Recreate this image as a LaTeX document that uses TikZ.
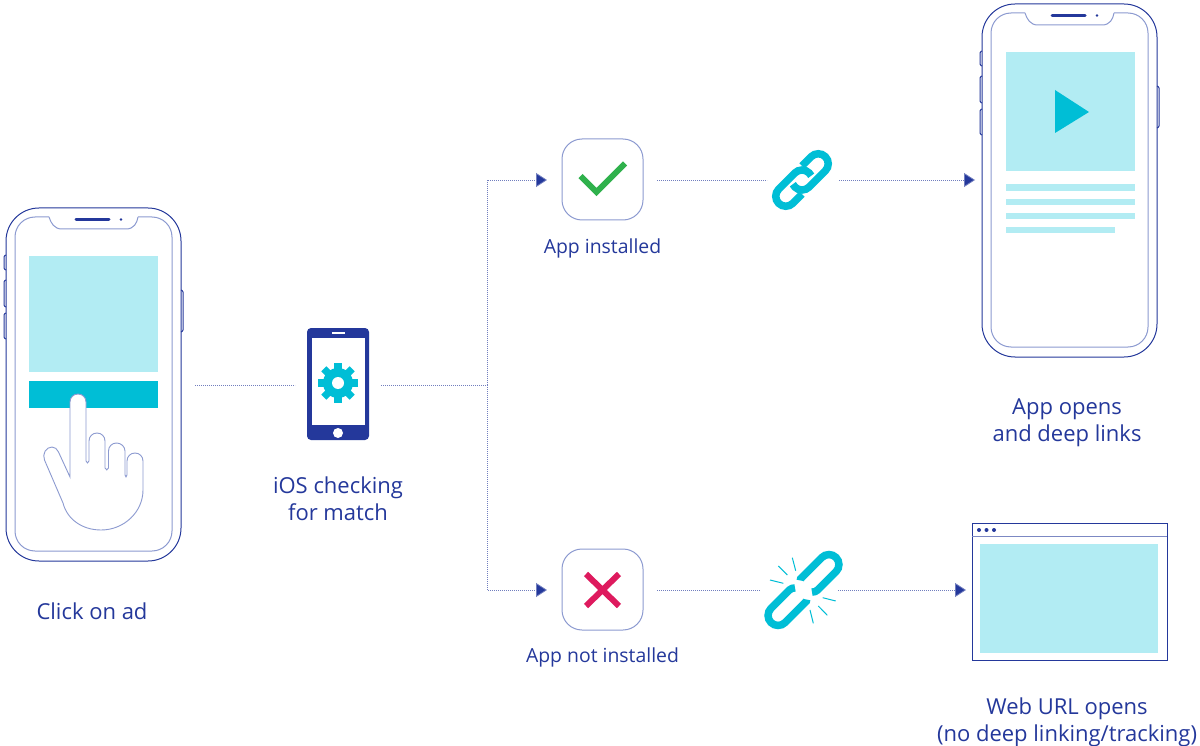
\documentclass[tikz,border=0pt]{standalone}
\usepackage{fontspec}
\setmainfont{Open Sans}
\usetikzlibrary{arrows.meta}
\definecolor{navy}{HTML}{24389B}
\definecolor{soft}{HTML}{8C9AD0}
\definecolor{pale}{HTML}{B2ECF3}
\definecolor{teal}{HTML}{00BED6}
\definecolor{okgreen}{HTML}{2FB14C}
\definecolor{nored}{HTML}{DE1A5E}
\tikzset{
  x=1pt,y=-1pt,
  shell/.style={draw=navy,line width=1pt},
  innerline/.style={draw=soft,line width=1pt},
  label/.style={text=navy,inner sep=0pt,align=center,font=\fontsize{22}{27}\selectfont},
  smalllabel/.style={label,font=\fontsize{19.4}{24}\selectfont},
  flow/.style={draw=navy!65,line width=0.8pt,dash pattern=on 0.9pt off 1.1pt},
  flowarrow/.style={flow,-{Triangle[length=11pt,width=14pt,fill=navy]}},
  statusbox/.style={draw=soft,line width=1pt,rounded corners=20pt,minimum width=81pt,minimum height=81pt,inner sep=0pt},
  chain/.style={draw=teal,line width=7.5pt},
  ray/.style={draw=teal,line width=1pt},
}
\newcommand{\phoneshell}{%
  \draw[shell,rounded corners=33pt] (6,208) rectangle (181,561);
  \draw[innerline,rounded corners=20pt] (49,217) -- (15,217) -- (15,551) -- (172,551) -- (172,217) -- (138,217);
  \draw[innerline] (138,217) .. controls (137,223) and (134,229) .. (126,229) -- (62,229) .. controls (54,229) and (51,223) .. (49,217);
  \draw[navy,line width=3pt,line cap=round] (76,219.5) -- (109,219.5);
  \fill[navy] (121,219.5) circle[radius=1.4pt];
  \draw[shell,rounded corners=1pt] (6,255) -- (4,256) -- (4,269) -- (6,270);
  \draw[shell,rounded corners=1pt] (6,280) -- (4,281) -- (4,306) -- (6,307);
  \draw[shell,rounded corners=1pt] (6,313) -- (4,314) -- (4,338) -- (6,339);
  \draw[shell,rounded corners=1pt] (181,290) -- (183,291) -- (183,331) -- (181,332);
}
% one half of a link, drawn in the frame that runs along the chain
\newcommand{\linkintact}{%
  \draw[chain] (10,-10) -- (23,-10) .. controls (28.5,-10) and (33,-5.5) .. (33,0)
     .. controls (33,5.5) and (28.5,10) .. (23,10) -- (0,10)
     .. controls (-5.5,10) and (-10,5.5) .. (-10,0) -- (-9.5,-3.5);
}
\newcommand{\linkbroken}{%
  \draw[chain] (4.5,-9) -- (6,-10) -- (36,-10) .. controls (41.5,-10) and (46,-5.5) .. (46,0)
     .. controls (46,5.5) and (41.5,10) .. (36,10) -- (10,10) .. controls (8,10) and (6,9) .. (4.5,7.5);
}
\begin{document}
\begin{tikzpicture}
\useasboundingbox (0,0) rectangle (1200,746);
\fill[white] (0,0) rectangle (1200,746);

% left phone
\phoneshell
\fill[pale] (29,256) rectangle (158,372);
\fill[teal] (29,381) rectangle (158,408);
\draw[innerline,fill=white,line width=0.9pt] (70,477) -- (70,402)
  .. controls (70,397.5) and (73.5,394) .. (78,394) .. controls (82.5,394) and (86,397.5) .. (86,402)
  -- (86,461) .. controls (86,463.5) and (89,463.5) .. (89,461)
  -- (89,441) .. controls (89,436.5) and (92.5,433) .. (97,433) .. controls (101.5,433) and (105,436.5) .. (105,441)
  -- (105,468) .. controls (105,470.5) and (108.5,470.5) .. (108.5,468)
  -- (108.5,451) .. controls (108.5,446.5) and (112,443) .. (116.5,443) .. controls (121,443) and (125,446.5) .. (125,451)
  -- (125,475) .. controls (125,477.5) and (127,477.5) .. (127,475)
  -- (127,461) .. controls (127,456.5) and (130.5,453) .. (135,453) .. controls (139.5,453) and (143,456.5) .. (143,461)
  -- (143,490) .. controls (143,512) and (124,530) .. (101,530) .. controls (82,530) and (67,519) .. (63,503)
  -- (44.5,460) .. controls (42,454) and (46,447) .. (52,447) .. controls (55,447) and (57,449) .. (58.5,452) -- cycle;
\node[label] (clicklabel) at (92,611) {Click on ad};

% checking phone
\fill[navy,rounded corners=4pt] (307,328) rectangle (369,440);
\fill[white] (312,338) rectangle (365,425);
\draw[white,line width=2pt] (332,332.5) -- (345,332.5);
\fill[white] (338,433) circle[radius=5pt];
\begin{scope}[shift={(338,383)}]
  \foreach \a in {0,45,...,315}{
    \begin{scope}[rotate=\a]
      \fill[teal] (-3.6,-20) rectangle (3.6,0);
    \end{scope}
  }
  \fill[teal] (0,0) circle[radius=15pt];
  \fill[white] (0,0) circle[radius=6pt];
\end{scope}
\node[label] (checklabel) at (338,498.5) {iOS checking\\for match};

% status boxes
\node[statusbox] (okbox) at (602.5,179.5) {};
\node[statusbox] (nobox) at (602.5,589.5) {};
\draw[okgreen,line width=6pt] (580.5,176) -- (596.5,192) -- (625,163.5);
\draw[nored,line width=6pt] (586,574) -- (619,606) (619,574) -- (586,606);
\node[smalllabel] (oklabel) at (602.5,248.5) {App installed};
\node[smalllabel] (nolabel) at (602.5,657.5) {App not installed};

% links
\begin{scope}[shift={(802,180)},rotate=45]
  \linkintact
  \begin{scope}[rotate=180]\linkintact\end{scope}
\end{scope}
\begin{scope}[shift={(803.5,590)},rotate=45]
  \linkbroken
  \begin{scope}[rotate=180]\linkbroken\end{scope}
\end{scope}
\draw[ray] (778.3,566) -- (787.3,575);
\draw[ray] (770,580) -- (783.3,583.3);
\draw[ray] (792.3,557.7) -- (795.7,570.7);
\draw[ray] (818.3,606) -- (827.3,615.3);
\draw[ray] (822.7,597.7) -- (835.7,601);
\draw[ray] (810,610) -- (813.3,623.3);

% right phone
\begin{scope}[shift={(976,-204)}]
  \phoneshell
\end{scope}
\fill[pale] (1006,52) rectangle (1135,171);
\fill[teal] (1055,90) -- (1089,112) -- (1055,133) -- cycle;
\fill[pale] (1006,184) rectangle (1135,191);
\fill[pale] (1006,199) rectangle (1135,205);
\fill[pale] (1006,213) rectangle (1135,219);
\fill[pale] (1006,227) rectangle (1115,233);
\node[label] (openlabel) at (1067,422.5) {App opens\\and deep links};

% browser
\draw[shell] (972,523) rectangle (1167,660);
\draw[innerline,draw=navy!60] (972,536.5) -- (1167,536.5);
\foreach \dx in {979,986.5,994}{\fill[navy] (\dx,530) circle[radius=2pt];}
\fill[pale] (980,544) rectangle (1158,653);
\node[label] (weblabel) at (1067,722) {Web URL opens\\(no deep linking/tracking)};

% connectors
\coordinate (phoneout) at (195,385);
\coordinate (gearin) at (295,385);
\coordinate (gearout) at (381,385);
\coordinate (fork) at (487,385);
\coordinate (upturn) at (487,180);
\coordinate (downturn) at (487,590);
\coordinate (okin) at (547,180);
\coordinate (noin) at (547,590);
\coordinate (okout) at (657,180);
\coordinate (noout) at (657,590);
\coordinate (linkin) at (767,180);
\coordinate (linkout) at (839,180);
\coordinate (brokenin) at (760,590);
\coordinate (brokenout) at (838,590);
\coordinate (phonein) at (975,180);
\coordinate (webin) at (966,590);
\draw[flow] (phoneout) -- (gearin);
\draw[flow] (gearout) -- (fork);
\draw[flowarrow] (fork) -- (upturn) -- (okin);
\draw[flowarrow] (fork) -- (downturn) -- (noin);
\draw[flow] (okout) -- (linkin);
\draw[flow] (noout) -- (brokenin);
\draw[flowarrow] (linkout) -- (phonein);
\draw[flowarrow] (brokenout) -- (webin);
\end{tikzpicture}
\end{document}
